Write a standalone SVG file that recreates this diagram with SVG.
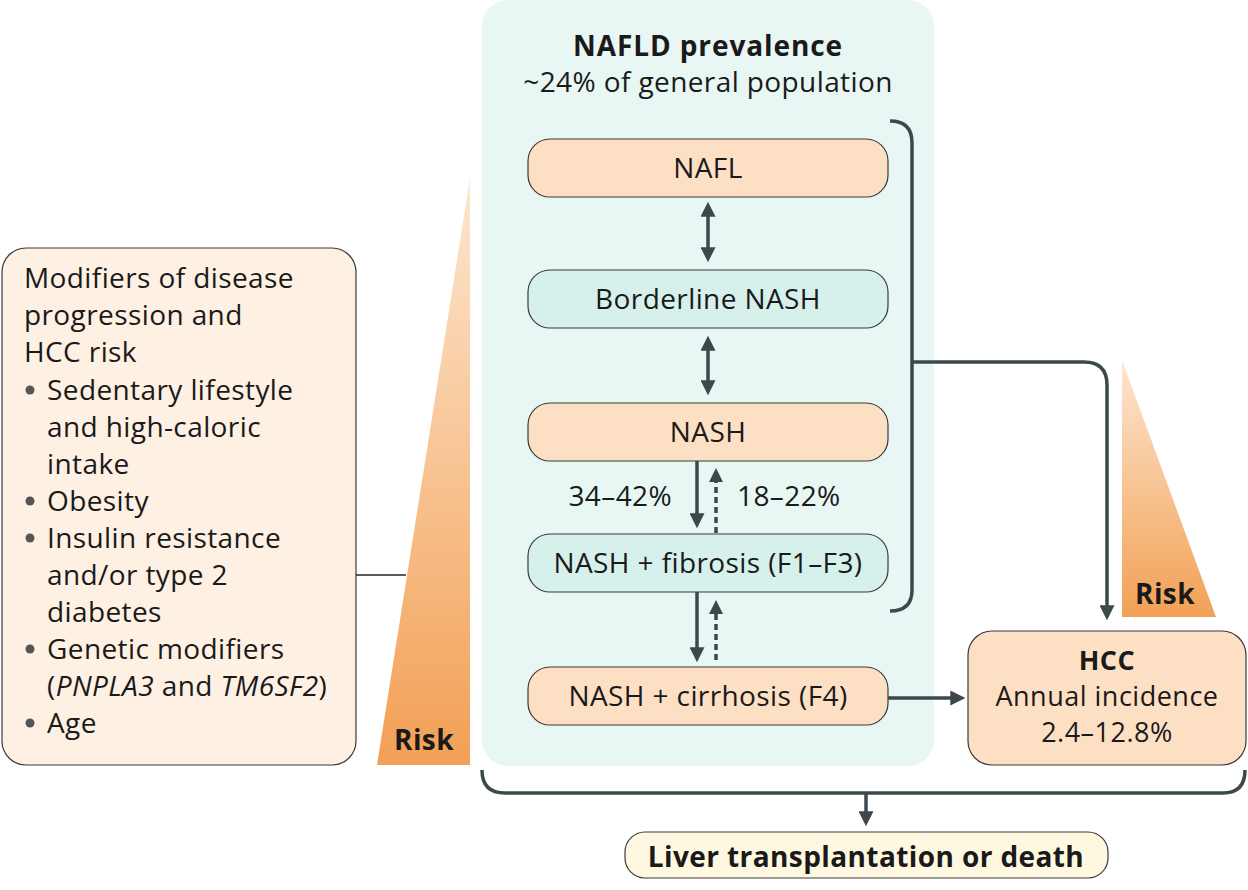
<svg xmlns="http://www.w3.org/2000/svg" width="1248" height="890" viewBox="0 0 1248 890">
<defs>
<linearGradient id="riskGrad" x1="0" y1="0" x2="0" y2="1">
<stop offset="0" stop-color="#fde6d0"/>
<stop offset="1" stop-color="#f2a055"/>
</linearGradient>
<marker id="ah" viewBox="0 0 14 14" refX="10" refY="7" markerWidth="15" markerHeight="15" markerUnits="userSpaceOnUse" orient="auto-start-reverse">
<path d="M0,0 L14,7 L0,14 z" fill="#3d484c"/>
</marker>
<marker id="ahs" viewBox="0 0 14 14" refX="10" refY="7" markerWidth="14" markerHeight="14" markerUnits="userSpaceOnUse" orient="auto-start-reverse">
<path d="M0,0 L14,7 L0,14 z" fill="#3d484c"/>
</marker>
</defs>
<style>
text{font-family:"Open Sans","Liberation Sans",sans-serif;fill:#1a1a1a}
.t{font-size:28px;letter-spacing:0.4px}
.h{font-size:27px;letter-spacing:0.5px}
.b{font-weight:bold}
.node{stroke:#3a3a3a;stroke-width:1.2}
.peach{fill:#fde0c4}
.teal{fill:#d6f0eb}
.ln{fill:none;stroke:#3d484c;stroke-width:3.5}
.dash{stroke-dasharray:6 4}
</style>
<rect width="1248" height="890" fill="#ffffff"/>

<g id="panel">
<rect x="482" y="0" width="452" height="766" rx="26" fill="#e8f7f4"/>
<text x="708" y="56" text-anchor="middle" class="t b" style="letter-spacing:0.9px">NAFLD prevalence</text>
<text x="708" y="92" text-anchor="middle" class="t">~24% of general population</text>
</g>

<g id="risk-left">
<polygon points="470,178 470,765 377,765" fill="url(#riskGrad)"/>
<text x="424" y="750" text-anchor="middle" class="t b">Risk</text>
</g>
<g id="risk-right">
<polygon points="1122,360 1122,617 1216,617" fill="url(#riskGrad)"/>
<text x="1165" y="604" text-anchor="middle" class="t b">Risk</text>
</g>

<g id="modifiers">
<rect x="2" y="248" width="354" height="517" rx="24" fill="#fef0e3" class="node"/>
<text class="t">
<tspan x="24" y="288">Modifiers of disease</tspan>
<tspan x="24" y="325">progression and</tspan>
<tspan x="24" y="362">HCC risk</tspan>
<tspan x="47" y="400">Sedentary lifestyle</tspan>
<tspan x="47" y="437">and high-caloric</tspan>
<tspan x="47" y="474">intake</tspan>
<tspan x="47" y="511">Obesity</tspan>
<tspan x="47" y="548">Insulin resistance</tspan>
<tspan x="47" y="585">and/or type 2</tspan>
<tspan x="47" y="622">diabetes</tspan>
<tspan x="47" y="659">Genetic modifiers</tspan>
<tspan x="47" y="696">(<tspan font-style="italic">PNPLA3</tspan> and <tspan font-style="italic">TM6SF2</tspan>)</tspan>
<tspan x="47" y="733">Age</tspan>
</text>
<g fill="#555">
<circle cx="30" cy="390" r="4.5"/>
<circle cx="30" cy="501" r="4.5"/>
<circle cx="30" cy="538" r="4.5"/>
<circle cx="30" cy="649" r="4.5"/>
<circle cx="30" cy="723" r="4.5"/>
</g>
</g>

<g id="nafl">
<rect x="528" y="139" width="360" height="58" rx="22" class="node peach"/>
<text x="708" y="178" text-anchor="middle" class="t">NAFL</text>
</g>
<g id="borderline">
<rect x="528" y="270" width="360" height="58" rx="22" class="node teal"/>
<text x="708" y="309" text-anchor="middle" class="t">Borderline NASH</text>
</g>
<g id="nash">
<rect x="528" y="403" width="360" height="58" rx="22" class="node peach"/>
<text x="708" y="442" text-anchor="middle" class="t">NASH</text>
</g>
<g id="fibrosis">
<rect x="528" y="534" width="360" height="58" rx="22" class="node teal"/>
<text x="708" y="573" text-anchor="middle" class="t">NASH + fibrosis (F1–F3)</text>
</g>
<g id="cirrhosis">
<rect x="528" y="667" width="360" height="58" rx="22" class="node peach"/>
<text x="708" y="706" text-anchor="middle" class="t">NASH + cirrhosis (F4)</text>
</g>
<g id="hcc">
<rect x="968" y="631" width="278" height="134" rx="24" class="node peach"/>
<text x="1107" y="670" text-anchor="middle" class="h b">HCC</text>
<text x="1107" y="706" text-anchor="middle" class="h">Annual incidence</text>
<text x="1107" y="742" text-anchor="middle" class="h">2.4–12.8%</text>
</g>
<g id="outcome">
<rect x="625" y="832" width="483" height="46" rx="20" fill="#fef8e0" class="node"/>
<text x="866" y="867" text-anchor="middle" class="t b">Liver transplantation or death</text>
</g>

<g id="labels">
<text x="672" y="506" text-anchor="end" class="t">34–42%</text>
<text x="737" y="506" class="t">18–22%</text>
</g>

<g id="connectors">
<line x1="708" y1="206" x2="708" y2="258" class="ln" marker-start="url(#ah)" marker-end="url(#ah)"/>
<line x1="708" y1="340" x2="708" y2="391" class="ln" marker-start="url(#ah)" marker-end="url(#ah)"/>
<line x1="697" y1="461" x2="697" y2="524" class="ln" marker-end="url(#ah)"/>
<line x1="716" y1="533" x2="716" y2="472" class="ln dash" marker-end="url(#ahs)"/>
<line x1="697" y1="592" x2="697" y2="658" class="ln" marker-end="url(#ah)"/>
<line x1="716" y1="660" x2="716" y2="604" class="ln dash" marker-end="url(#ahs)"/>
<line x1="888" y1="698" x2="961" y2="698" class="ln" marker-end="url(#ah)"/>
<path d="M890,121 Q912,121 912,143 L912,590 Q912,611 890,611" class="ln"/>
<path d="M912,362 L1084,362 Q1107,362 1107,385 L1107,616" class="ln" marker-end="url(#ah)"/>
<line x1="356" y1="575" x2="406" y2="575" stroke="#222" stroke-width="1.3"/>
<path d="M482,770 Q482,793 505,793 L1223,793 Q1245,793 1245,770" class="ln"/>
<line x1="866" y1="793" x2="866" y2="822" class="ln" marker-end="url(#ah)"/>
</g>
</svg>
